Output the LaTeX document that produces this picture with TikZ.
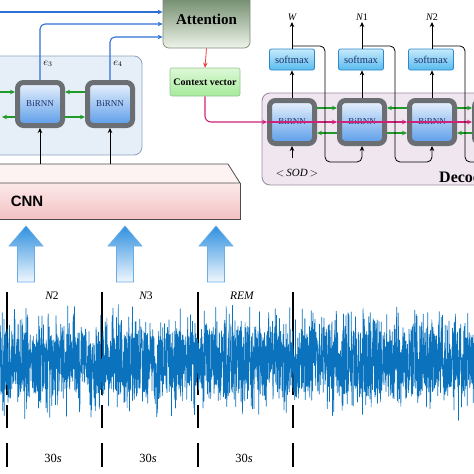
\documentclass[tikz,border=0pt]{standalone}
\usepackage{fontspec}
\setmainfont{Liberation Serif}
\newfontfamily\cnnfont{Liberation Sans}
\usetikzlibrary{arrows.meta,positioning,calc}

\definecolor{attdark}{HTML}{5E7D5A}
\definecolor{attlight}{HTML}{EEF3EA}
\definecolor{attborder}{HTML}{7C8C7A}
\definecolor{ctxtop}{HTML}{DDF8D6}
\definecolor{ctxbot}{HTML}{A5EB9C}
\definecolor{ctxborder}{HTML}{95C290}
\definecolor{encfill}{HTML}{E6EEF8}
\definecolor{encborder}{HTML}{8EA4BF}
\definecolor{decfill}{HTML}{EFE6F0}
\definecolor{decborder}{HTML}{9C8FA3}
\definecolor{blockgray}{HTML}{6B6E73}
\definecolor{blocktop}{HTML}{EAF2FD}
\definecolor{blockbot}{HTML}{5A9CE8}
\definecolor{birnntext}{HTML}{1D2F6B}
\definecolor{smtop}{HTML}{C6EAFB}
\definecolor{smbot}{HTML}{58BBEF}
\definecolor{smborder}{HTML}{2F86C8}
\definecolor{attblue}{HTML}{2E6FD6}
\definecolor{rnngreen}{HTML}{1E9B28}
\definecolor{ctxpink}{HTML}{D0217A}
\definecolor{attred}{HTML}{E8423A}
\definecolor{cnnface}{HTML}{FDF3F3}
\definecolor{cnntop}{HTML}{FCE9E9}
\definecolor{cnnbot}{HTML}{F2C2C4}
\definecolor{uptop}{HTML}{2F90DE}
\definecolor{upbot}{HTML}{F0F7FE}
\definecolor{upborder}{HTML}{6AAEE8}
\definecolor{eeg}{HTML}{0B72BE}

\tikzset{
  >={Stealth[length=5pt,width=4.5pt]},
  birnn/.style={draw=blockgray, line width=5pt, rounded corners=6pt,
    top color=blocktop, bottom color=blockbot, minimum width=45pt,
    minimum height=43pt, inner sep=0pt, text=birnntext,
    font=\fontsize{9}{9}\selectfont},
  smbox/.style={draw=smborder, line width=0.7pt, rounded corners=2pt,
    top color=smtop, bottom color=smbot, minimum width=45pt,
    minimum height=21pt, inner sep=0pt, text=birnntext,
    font=\fontsize{10.5}{10.5}\selectfont},
  outlab/.style={inner sep=1.5pt, font=\fontsize{10}{10}\selectfont\itshape},
  stagelab/.style={inner sep=0pt, font=\fontsize{11.5}{11.5}\selectfont\itshape},
  seclab/.style={inner sep=0pt, font=\fontsize{12.5}{12.5}\selectfont},
  attline/.style={->, attblue, line width=1.1pt, rounded corners=5pt},
  rnnline/.style={->, rnngreen, line width=1.1pt},
  ctxline/.style={->, ctxpink, line width=1.1pt, rounded corners=6pt},
  fbline/.style={->, black, line width=0.8pt, rounded corners=5pt},
  upline/.style={->, black, line width=0.8pt},
  bigup/.style={top color=uptop, bottom color=upbot, draw=upborder, line width=0.6pt},
  epochline/.style={black, line width=1.2pt}
}

\begin{document}
\begin{tikzpicture}[x=1pt, y=-1pt]
  \useasboundingbox (0,0) rectangle (474,474);
  \clip (0,0) rectangle (474,474);

  % containers
  \node[draw=encborder, fill=encfill, line width=0.8pt, rounded corners=8pt,
        minimum width=152pt, minimum height=99pt] (enc) at (66,105.5) {};
  \node[draw=decborder, fill=decfill, line width=0.9pt, rounded corners=8pt,
        minimum width=228pt, minimum height=92pt] (dec) at (376,139) {};
  \node[anchor=west, inner sep=0pt, font=\fontsize{16}{16}\selectfont\bfseries]
        (declab) at (439,177) {Decoder};

  % attention and context
  \node[draw=attborder, top color=attdark, bottom color=attlight, line width=0.7pt,
        rounded corners=6pt, minimum width=87pt, minimum height=58pt,
        font=\fontsize{15}{15}\selectfont\bfseries] (att) at (206.5,19)
        {\raisebox{-6pt}{Attention}};
  \node[draw=ctxborder, top color=ctxtop, bottom color=ctxbot, line width=0.6pt,
        rounded corners=2pt, minimum width=70pt, minimum height=28pt, inner sep=0pt,
        font=\fontsize{10}{10}\selectfont\bfseries] (ctx) at (205,82) {Context vector};

  % encoder
  \node[birnn] (enc1) at (40,104) {BiRNN};
  \node[birnn] (enc2) at (110,104) {BiRNN};
  \node[inner sep=0pt, font=\fontsize{10}{10}\selectfont] (e3) at (48,64) {$e_3$};
  \node[inner sep=0pt, font=\fontsize{10}{10}\selectfont] (e4) at (118,64) {$e_4$};

  % decoder
  \foreach \i/\px in {1/292,2/362,3/432}
    \node[birnn] (dec\i) at (\px,122) {BiRNN};
  \node[birnn] (dec4) at (497,122) {};
  \foreach \i/\px in {1/292,2/361,3/431}
    \node[smbox] (sm\i) at (\px,59.5) {softmax};
  \node[outlab] (w1) at (292,17) {W};
  \node[outlab] (w2) at (362,17) {N\upshape1};
  \node[outlab] (w3) at (432,17) {N\upshape2};
  \node[inner sep=1pt, font=\fontsize{11}{11}\selectfont] (sod) at (297,173)
        {$<$\,\textit{SOD}\,$>$};

  % CNN slab
  \coordinate (cnntopc) at (0,164);
  \fill[cnnface] (-5,164) -- (228,164) -- (240,183) -- (-5,183) -- cycle;
  \shade[top color=cnntop, bottom color=cnnbot] (-5,183) rectangle (240,219);
  \draw[black!70, line width=0.8pt] (-5,164) -- (228,164) -- (240,183) -- (-5,183);
  \draw[black!70, line width=0.8pt] (-5,219) -- (240,219) -- (240,183);
  \node[inner sep=0pt, font=\cnnfont\fontsize{15}{15}\selectfont\bfseries]
        (cnn) at (27,201) {CNN};

  % big input arrows
  \foreach \ax in {26,125,216}
    \shade[bigup] (\ax-8.5,282) -- (\ax-8.5,246) -- (\ax-17,246) -- (\ax,226)
      -- (\ax+17,246) -- (\ax+8.5,246) -- (\ax+8.5,282) -- cycle;

  % encoder connections
  \draw[upline] (enc1.south |- cnntopc) -- (enc1.south);
  \draw[upline] (enc2.south |- cnntopc) -- (enc2.south);
  \coordinate (in1) at (0,12);
  \coordinate (in2) at (0,24);
  \coordinate (in3) at (0,37);
  \draw[attline] (in1) -- (in1 -| att.west);
  \draw[attline] (enc1.north) |- (in2 -| att.west);
  \draw[attline] (enc2.north) |- (in3 -| att.west);
  \coordinate (lin) at (0,92);
  \coordinate (lout) at (2,117);
  \draw[rnnline] (lin) -- (lin -| enc1.west);
  \draw[rnnline] ([yshift=12pt]enc2.west) -- ([yshift=12pt]enc1.east);
  \draw[rnnline] ([yshift=-13pt]enc1.west) -- (lout);
  \draw[rnnline] ([yshift=-13pt]enc1.east) -- ([yshift=-13pt]enc2.west);

  % attention to decoder
  \draw[->, attred, line width=0.8pt] (att.south) -- (ctx.north);
  \draw[ctxline] (ctx.south) |- (dec1.west);
  \foreach \i/\j in {1/2,2/3,3/4}
    \draw[->, ctxpink, line width=1.1pt] (dec\i.west) -- (dec\j.west);

  \draw[rnnline] ([yshift=14pt]dec1.east) -- ([yshift=14pt]dec2.west);
  \draw[rnnline] ([yshift=14pt]dec3.west) -- ([yshift=14pt]dec2.east);
  \draw[rnnline] ([yshift=14pt]dec3.east) -- ([yshift=14pt]dec4.west);
  \draw[rnnline] ([yshift=-11pt]dec2.west) -- ([yshift=-11pt]dec1.east);
  \draw[rnnline] ([yshift=-11pt]dec2.east) -- ([yshift=-11pt]dec3.west);
  \draw[rnnline] ([yshift=-11pt]dec4.west) -- ([yshift=-11pt]dec3.east);

  \foreach \i in {1,2,3} {
    \draw[upline] (dec\i.north) -- (sm\i.south -| dec\i.north);
    \draw[upline] (sm\i.north -| w\i.south) -- (w\i.south);
  }
  \foreach \i/\j in {1/2,2/3,3/4}
    \draw[fbline] (w\i.south |- 0,46) -| ([xshift=8pt]dec\i.east |- 0,162)
      -| (dec\j.south);
  \draw[upline] (dec1.south |- 0,158) -- (dec1.south);

  % EEG signal
  \foreach \ex in {7,102,198,293} {
    \draw[epochline, dash pattern=on 103pt off 10pt] (\ex,292) -- (\ex,428);
    \draw[epochline] (\ex,443) -- (\ex,467);
  }
  \pgfmathsetseed{17}
  \draw[eeg, line width=0.7pt, line join=round]
    plot[domain=0:474, samples=2600] (\x, {362 + rand*(28 + 32*rnd^2)});

  \node[stagelab] (s1) at (52,296) {N\upshape2};
  \node[stagelab] (s2) at (146,296) {N\upshape3};
  \node[stagelab] (s3) at (242,296) {REM};
  \node[seclab] (t1) at (53,458) {30\textit{s}};
  \node[seclab] (t2) at (148,458) {30\textit{s}};
  \node[seclab] (t3) at (244,458) {30\textit{s}};
\end{tikzpicture}
\end{document}
